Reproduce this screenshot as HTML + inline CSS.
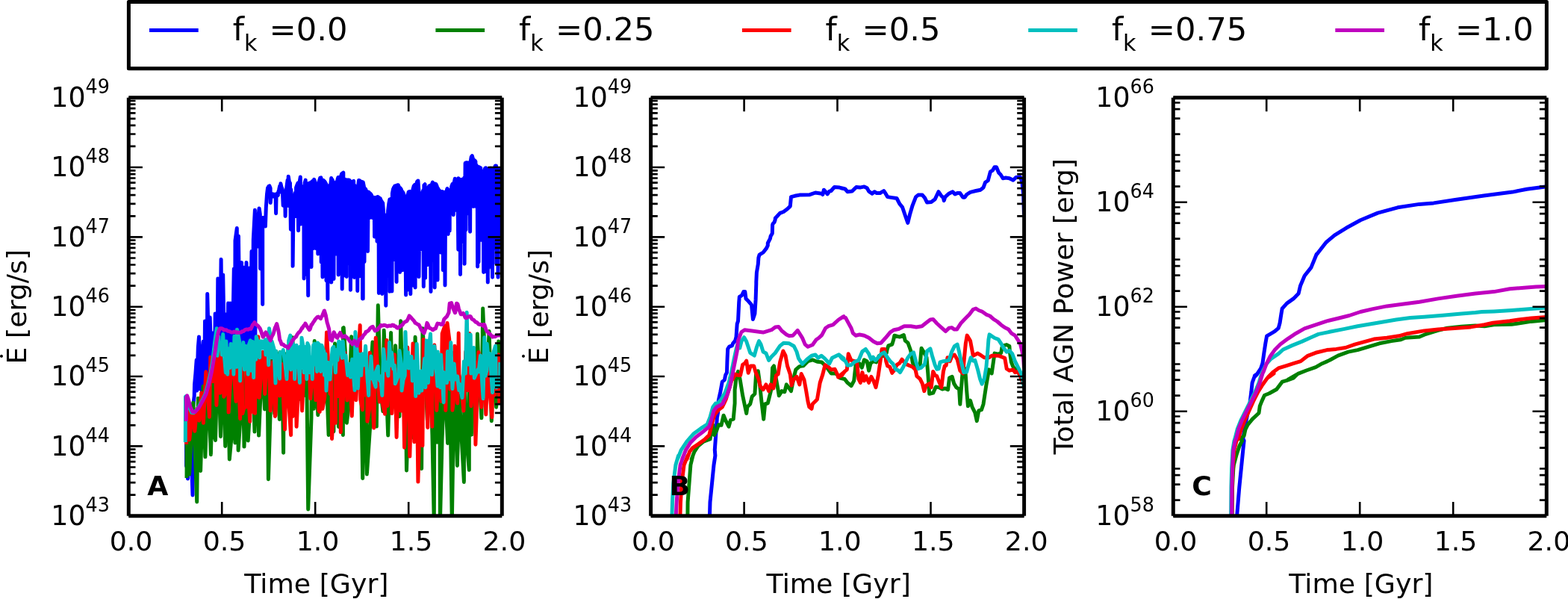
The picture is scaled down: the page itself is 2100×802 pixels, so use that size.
<!DOCTYPE html>
<html><head><meta charset="utf-8"><title>AGN power</title>
<style>html,body{margin:0;padding:0;background:#fff;overflow:hidden}svg{display:block}</style></head>
<body>
<svg width="2100" height="802" viewBox="0 0 2100 802" role="img" aria-label="AGN power versus time for five kinetic fractions">
<rect width="2100" height="802" fill="#fff"/>
<defs>
<clipPath id="cp0"><rect x="172.3" y="130.7" width="499.8" height="560.0"/></clipPath>
<clipPath id="cp1"><rect x="871.6" y="130.7" width="499.8" height="560.0"/></clipPath>
<clipPath id="cp2"><rect x="1571.3" y="130.7" width="499.8" height="560.0"/></clipPath>
</defs>
<g clip-path="url(#cp0)" fill="none" stroke-width="5.0" stroke-linejoin="round" stroke-linecap="butt">
<path stroke="#0000ff" d="M249.4,560 249.5,624 251.3,600 251.5,641 254.5,560 258,663 258.5,545 260.2,530.2 260.5,515 261.9,500.1 263.2,482 263.6,523.1 265.3,465.1 266.5,451 267,520.6 268.7,463.5 270.4,531.1 270.8,470 272.1,457.3 273.8,509.2 274.5,430 277.2,511.4 277.7,393.6 280.6,502.8 281.2,425 284,514.9 284.5,446 287.4,504.1 288.2,420 290.8,504.9 291.8,373 294.2,495.3 296.1,347.2 297.6,491.1 298.7,368 301,499 302.6,421 304.4,492.4 305.6,406 307.8,488.7 308.6,406 311.2,473.5 313.3,360 314.6,474 315,322 317.3,305.5 318,483.6 319.4,316 321.4,468.4 323.5,351.6 324.8,479.1 326,358 328.2,467 330,351.6 331.6,474.3 333.5,359 335,474.4 337,336.5 338.4,454.5 339.3,321 341.4,281.3 341.8,465.8 342.5,289.7 343.7,289.7 344.8,289.7 345,330 346,289.7 347.1,278.9 348.3,286.9 348.6,359.8 349.4,291.3 350.6,291.4 351.7,407.5 351.7,291.5 352.9,291.4 354,291.3 355.2,291 355.4,303.1 356.3,277.8 357.5,260.1 358.6,251.4 358.8,254.7 359.8,249.5 360.9,248.9 362.1,251.9 362.2,271.5 363.2,259.2 364.4,259.6 365.5,260.1 365.6,263.1 366.7,260.2 367.8,260.3 369,260.2 369.6,285.7 370.1,259.9 371.3,259.2 372.4,261.5 372.4,258.5 373.6,254.1 374.7,249.1 375.8,257.1 375.9,245.8 377,250.5 378.2,253.3 379.2,275.2 379.3,255.7 380.5,259.9 381.6,260.1 382.1,289.5 382.8,258.7 383.9,250.3 385.1,241.2 386,275.5 386.2,236.2 387.4,243.5 388.5,245.1 389.4,307.3 389.7,253.7 390.8,267.2 392,266.6 392.1,356.2 393.1,267.2 394.3,267.2 395.4,258.2 396.2,289.4 396.6,251.1 397.7,248 398.9,245.2 399.6,308.8 400,244.4 401.2,243.4 402.3,237 403,300 403.5,249 404.6,251 405.8,251 406.9,251 407.1,373 408.1,245.2 409.2,241.1 409.8,367.3 410.4,245.7 411.5,246 412.7,395.7 412.7,245.8 413.8,245.6 415,245 416.1,244.3 417,357.4 417.3,243.6 418.4,242.7 419.6,241.8 420,332.5 420.7,240.3 421.9,243.4 423,248.5 423.4,332.7 424.2,248.5 425.3,248.5 425.8,339.9 426.5,247.7 427.6,241.9 428.8,238.1 429.9,237.8 430.2,350.9 431.1,241 432,371.1 432.2,241 433.4,241.5 433.6,369.7 434.5,242.7 435.7,244.5 436.8,246.4 437,375.8 438,248.3 438.9,400.6 439.1,249.1 440.3,249.1 440.4,367.8 441.4,249.1 442.6,248.8 443.7,238.4 443.8,378 444.9,240.3 446,243.1 447,373.6 447.2,244.8 448.3,244.8 449.5,244.8 450.6,339.9 450.6,244.8 451.8,241.3 452.9,237.5 453.2,368 454.1,237.7 455.2,237.9 456.4,236.7 457.5,232.9 458.2,386.9 458.7,232 459.8,231.1 460.8,369.1 461,239.8 462.1,240.3 463.3,240.7 464.2,370.4 464.4,240.9 465.6,241 466.7,240.9 467.6,352.5 467.9,241.2 469,242.7 469.4,388.2 470.2,243.2 471,365.1 471.3,243.4 472.5,243 473.6,242.4 474.4,371.5 474.8,248.1 475.9,251 477.1,251 478.2,251 478.8,389.4 479.4,251 480.5,241.5 481.2,369.9 481.7,241.8 482.8,242.9 484,243.3 485.1,243.7 485.6,400 486.2,399.9 486.3,244.1 487.4,249.8 488,350.5 488.6,252.2 489.7,253.3 490.9,257.2 492,257.1 492.5,336.4 493.2,257.1 494.3,257.6 495.2,291.5 495.5,258.8 496.6,259.9 497.8,261.8 498.7,291.5 498.9,264.1 500.1,264.3 501.2,264.4 501.6,317 502.4,264.4 503.5,264.4 504.7,264.4 505,323.2 505.8,263.4 507,264.1 507.4,392.5 508.1,264.9 509.3,265.8 510.4,268.6 511.6,270.2 511.8,393.5 512.7,271.8 513.9,287.9 515,288.2 515.2,373.5 516.2,288 516.8,409.3 517.3,288.3 518.5,287.5 518.6,368.5 519.6,282 520.8,272.8 521.9,267 522,390.2 523.1,266.6 524.2,266.1 524.9,390 525.4,258.9 526.5,253.2 527.7,250.6 528.8,347.8 528.8,249 530,248.8 531.1,377.5 531.1,248.6 532.3,247.7 533.4,247.8 534.6,251 535.6,364.6 535.7,251.4 536.9,252.8 538,255.5 539,361.7 539.2,256.9 540.3,258.7 541.5,262.9 542.6,264.2 543.6,395 543.8,263.9 544.9,263.8 545.8,388.2 546.1,261.1 547.2,257.1 548.4,256.5 549.5,256.6 549.8,393.7 550.7,256.5 551.8,256.6 552.6,382.1 553,253.3 554.1,249.3 555.3,247.6 556.1,385 556.4,247.1 557.6,246.7 558.7,243 559.4,362.9 559.9,241.9 561,256.5 561,370.6 562.2,260.2 562.8,333.9 563.3,259.6 564.5,260.1 565.6,258.5 566.8,254.8 567.3,383.7 567.9,247.9 569.1,246.7 569.6,372.3 570.2,252.8 571.4,251.6 572.5,253.1 573,354.6 573.7,251.9 574.8,249 576,248.4 577,390.6 577.1,247.8 578.3,247.1 579.4,244 579.8,348.1 580.6,245.9 581.7,246 582.2,385 582.9,246 584,246.7 585.2,249.4 586,375 586.3,251.8 587.5,254.1 588.6,255.3 589.8,256.4 590,337.9 590.9,256.6 592.1,256.4 593.2,257 593.4,361.7 594.4,257.6 595.5,257.6 596,381.9 596.7,257.8 597.8,256.3 599,252.5 600.1,254.7 600.2,313.4 601.3,254.6 602.2,308.9 602.4,255.1 603.6,253.9 603.6,278 604.7,249.8 605.9,246.5 607,245.6 607.2,287.7 608.2,244.6 609.3,239.2 610.4,281.3 610.5,239.9 611.6,240.2 612.8,239.7 613.8,334.3 613.9,238.8 615.1,240.4 616.2,240.3 616.5,367.5 617.4,240.4 618.5,240.3 619.7,240.1 620.6,324.2 620.8,239.9 622,237.6 622.1,353.2 623.1,218.6 624,307.8 624.3,217.7 625.4,217.8 626.6,217.9 627.4,286 627.7,217.9 628.9,217.8 629.6,310.2 630,217.5 631.2,210.2 632.3,208.6 633.5,212.6 634,276.6 634.6,214.2 635.8,214.9 636.9,216.3 637.4,276.6 638.1,221.3 639.2,223.6 639.6,356.9 640.4,223.6 641,350.9 641.5,223.6 642.7,224.3 643.8,225.1 644.4,321.3 645,230.5 646.1,229.3 647.3,230.9 647.7,364.4 648.4,229.6 649.6,225.4 650.7,224.9 651.2,363.7 651.9,226 653,225.9 653.3,378.1 654.2,226 654.6,358.4 655.3,225.9 656.5,225.5 657.6,225.2 658,345 658.8,225.4 659.5,371.3 659.9,225.4 661.1,225.4 661.4,332.2 662.2,225.4 663.4,221.9 664.5,222 664.8,353 665.7,226.1 666.8,226.4 667,371.3 668,226.7 669.1,227 670.3,227.3 671.4,227.3 671.6,332"/>
<path stroke="#008000" d="M250,640 250.2,550 252.2,547.3 253.7,634.9 258.8,539.2 263.7,672 265.4,533.2 268.6,630.5 272,517.2 274.9,611.8 278.6,505.1 282.4,608.7 285.2,494.7 286.1,580 288.5,589.5 291.8,468 295.5,584.4 298.4,469.8 301.7,597.5 305,491 307.3,614.9 311.1,573.8 311.6,475.4 314.9,592.9 318.2,468 319.1,603.1 321.5,567.3 324.8,482.7 327,598.1 331.4,476.6 332.2,590 334.7,548 338,484.7 341,578.1 344.6,478.1 346.6,583.1 351.2,478.7 354.5,547.9 357.8,468 359.4,641.7 364.4,478.3 367.7,553.9 369.9,470.6 374.3,561.4 375.1,471.6 377.6,485.7 379.6,606.2 380.4,472.7 384.2,479.4 387.5,546.4 391.9,451.7 394.1,540.7 397.4,488.4 400.7,534.6 404,474.7 407.3,529.2 410.6,484.9 412.7,682 417,559.5 417.2,496.4 420.5,547.2 421.2,456.4 423.8,487.4 425.8,555.7 430.4,490.1 433.7,534.7 437,501.1 440.1,582.5 443.6,501.8 446.9,577.8 448.5,460.1 453.5,571.4 456.8,470.7 459.4,582.5 459.5,439.2 460.2,438.6 463.4,485.5 464.4,566.3 466.7,547.5 470.7,450.7 473.3,521 476.6,468 479.9,519.2 483.2,491 485.7,640.5 489.8,476.2 491.4,634.9 496.2,563 496.4,495.5 499,458 499.7,536.7 503,509.4 504.3,571.1 506.3,408.8 509.6,522.2 512.9,550.6 514.2,442.3 516.2,488.2 519.7,583 523.6,445.4 525.5,543.1 529.6,462.7 532.7,536.3 534.9,557.4 536.7,429.7 539.3,537.8 542.6,468 544.5,630 549.2,478.4 553.8,586.2 556.1,451.2 559.1,565.5 562.4,518.6 564.6,627.6 566,439.7 569,487.7 572.3,562.4 575.6,468 578.9,581.5 581.3,700 582.2,468 585.5,592.1 588.8,489.6 589.4,700 592.1,587.4 595.4,503.5 599.6,593.5 602,480.6 605.3,700 608.6,487.6 612.4,623.5 615.2,529.6 618.5,592.5 621.4,645.4 621.8,494.9 625.1,592.8 628.3,629.2 628.4,468 631.7,581.9 635,474.3 638.3,543.6 639.4,447 641.6,505 644.9,559.8 646.7,413 651.5,525.5 655.1,443.4 658.3,563.7 661.4,479.3 664.7,545.2 667.7,457 671.3,525.4"/>
<path stroke="#ff0000" d="M249.7,595 249.9,548 251.8,552.5 253.7,588.8 257.8,551.4 260.8,577.2 263.8,547.6 266.8,563.1 269.8,526 272.4,566.3 275.8,497.8 280.5,558.2 281.8,478.2 284.8,510.7 287.8,472.3 289.9,542.4 293.8,471.6 294.8,526.2 298.1,470.1 299.8,531.2 302.8,524.9 305.8,481.7 306.1,551.1 306.1,552 308.8,505.9 311.8,479.6 316,537.4 317.8,463.5 321.6,560.7 323.8,478.6 324.8,553.6 326.8,546 329.8,544.9 329.8,484.2 334.7,564.4 335.8,472.4 339.7,552.4 341.6,553.2 341.8,468.1 344.8,531.2 345.8,450.7 347.2,532.4 350.8,491.5 351.6,471.6 353.8,471.8 354.7,527.4 356.8,491.4 359.8,463.1 362.2,549.9 365.8,484.4 368.4,557.4 369,555.7 371.8,486.7 374.6,529.9 377.8,487.4 379.6,537.4 381.5,575 383.8,483.6 385.9,524.9 389.6,582.5 389.8,464.6 392.1,557.4 395.8,484.5 397.1,571.3 401.8,476.8 404.6,549.9 408.1,472.2 410.8,505.3 413.8,485.4 415.8,533.7 419.8,479.2 422.8,535.7 425.8,479 427,549.9 428.2,551.3 431.8,482.5 432,547.4 434.8,531.8 437.5,444.9 442,527.4 443.8,491.3 444.5,587.5 446.8,552.7 449.4,566.3 449.8,476.1 452.8,530.6 455.8,472.9 456.3,578.8 458.1,485.3 458.8,550.9 461.8,472 464.8,536 467.8,496.5 471.3,557 473.8,481.3 476.8,535.7 479.8,482.6 482.2,435.5 482.8,535.5 485.6,548.7 485.9,481.1 488.8,529.1 491.8,488.3 491.9,564.3 494.8,546.6 495.3,472.2 497.8,495.5 500.6,573 500.8,572.5 503.2,452.3 508.1,538.1 509.8,507.8 512.8,542.6 515.5,554.3 515.8,495.8 517.9,455.4 518.8,543.6 521.8,473 524.8,553.6 528.3,474.8 531.1,585.4 533.8,493.6 536.8,550 539.8,492.2 541.6,599.2 545.8,465 548.8,611.1 553,460.1 554.8,591.8 557.8,473.4 559.9,645.1 563.8,500.3 565.9,596.8 567.1,454.4 569.8,473.8 572.8,572.5 575.8,463.1 578.8,571.3 579.1,474.8 581.8,462 584.8,549.4 587.8,483.6 590.8,537.4 592.2,446.5 595.9,436 596.8,549.5 599,432.4 601.7,453.8 602.8,521.2 605.8,472.4 605.9,549.3 608.8,525.8 609,463.3 611.8,511.5 612.8,540 614.2,446 614.8,500.8 617.8,519.4 620.9,549.9 623.8,470.8 626.8,522.8 628.9,446.5 630.9,543.7 635.8,484.1 636.9,595.2 641,471.6 644.8,545.2 647.8,474.6 650.8,554.9 653.8,474.9 656.8,535.3 658.9,558.7 659.8,482.6 662.8,529 667.7,474.8 668.8,541.5"/>
<path stroke="#00bfbf" d="M248.3,592 248.5,531 249.3,530.6 251.1,535.6 253.6,545.6 256.8,552.4 259.9,552.4 264.9,546.8 269.8,538.1 274.8,528.1 278.6,514.4 282.3,498.2 284.8,483.2 287.7,457 290.3,439.7 291.1,476.3 292.9,450.7 293.6,465 295.8,460.7 297.3,475.1 298.7,447.5 299.8,470.1 302.3,498.8 302.9,457 304.8,501.2 305,466.4 307.9,492.5 309.1,460.6 312.3,462.2 312.9,501.2 313.9,450.2 317.3,491.3 317.5,441.3 320.7,457 321.6,510 322.2,462.2 324.4,488.8 325.9,458.5 327.3,495 328.5,463.3 330.6,464.3 332.2,501.2 332.7,463.3 335.3,455.9 336,496.2 338.5,457.5 339.7,505.6 340.6,460.1 342.8,481.3 343.2,450.7 345.3,458 347.8,478.8 347.9,457 351.1,457 351.6,466.3 355.2,454.9 355.9,475.1 358.4,453.8 359.7,488.8 360.5,439.7 362.6,453.8 364,478.8 364.1,457 366.8,466.4 369,513.1 369.4,470.1 374.6,506.9 375.1,471.6 378.4,472.6 379.3,468.5 381.6,485.3 384,507.5 385.6,466.4 386,491.2 386.7,455.9 388.8,449.1 389.6,495 390.9,457 394,464.3 394.6,507.5 397.1,462.2 397.7,491.3 399.2,468.5 401.4,512.5 401.9,464.3 403.6,492.5 404,452.3 406.1,464.3 407.1,498.8 407.6,471.6 409.7,464.3 410.8,507.5 411.8,459.6 413.9,464.3 414.5,498.8 417.1,477.9 418.3,507.5 419.7,462.2 421.2,487.9 421.2,460.1 423.4,465.8 424.5,497.5 425.4,459.1 428.6,462.2 429.5,497.5 430.7,462.2 433.8,470.6 434.4,502.4 435.9,473.7 437,523.1 439.1,485.3 442,508.1 443.2,488.4 445.3,466.4 446.9,464.3 449.4,498.8 450.6,468.5 452,482.2 453.7,457 455,458 458.2,479.3 459.2,457 460.8,478.7 463,475.8 465.7,502.5 468.6,487 469.4,505 471.8,480.9 475,522.4 475.9,444.4 478.6,474.4 479.4,519.9 481.2,474.4 483.7,502.6 485,474.3 485,473.8 487.5,488.9 489.6,463.3 491.6,500.3 493.7,529.4 494.3,501.6 496,507.2 496.9,476.9 498.7,504.3 503.1,518.1 503.2,498.5 506.3,490.5 506.8,505.6 509.2,510.4 509.5,503.7 511.8,529.4 513.7,467.4 516.2,495.6 516.8,484.9 519.9,503.2 521.5,458.5 523.6,489.3 524.6,472 526.8,494 528.3,489.1 529.2,513.8 533.6,503.1 535.1,469.6 537.8,489.1 538,523.1 540,509 542.3,502.6 543,444.4 544.4,488.2 546.6,471.7 547.3,493.1 551,477.4 552.3,510 555.6,483.8 556.7,530.6 558.2,460.6 561,526.2 561.9,501.6 564.2,496.9 564.8,523.1 568.6,480 569.8,518.8 571.3,455.9 573.5,512.5 574.4,463.9 576.5,447 578.5,501.8 581.8,463.5 586,516.9 586.2,470.9 589.7,518.8 590.6,475 594.1,538.7 594.3,498.5 598.5,512.5 599.4,470.5 602.2,508 603.8,458.5 605.9,520.6 608.2,486.9 609.7,508 612.6,503.8 614.7,522.5 615.3,514.2 619,532.5 621.4,483.9 623.4,500.1 625.2,418.2 626.5,488.1 630.2,448 630.9,500.1 634.6,465.6 635.2,506.3 640.4,494.3 640.9,498.1 643.4,476 647.1,533.7 648.8,451.7 650,503.3 652.1,495.1 652.2,460.2 654.6,488.1 656.1,473.4 659.5,525.6 661,471.4 663.5,463.3 664.5,518.8 669.5,515.5 669.8,484.9"/>
<path stroke="#bf00bf" d="M249.3,564 249.6,545 249.3,532.3 250.6,529.8 252.4,534.8 254.9,544.8 258.1,551.6 261.2,551.6 266.2,546 271.1,537.3 276.1,527.3 279.9,513.6 283.6,497.4 286.1,482.4 288.6,467.2 288.6,467.5 289.9,457.3 290.5,454.3 292.3,445 292.3,444.8 294.4,439.9 294.8,439.8 296.6,439.7 298.7,440.5 299.8,441.7 300.6,441.8 303.1,441.8 305,443.2 307.3,443.6 307.6,443.8 309.7,444.9 311.5,445 313.5,444.1 315.4,444.7 317.3,445.4 317.9,444.8 320.2,445.4 322.3,445 323.5,444.8 324.1,443.7 326,443.6 328.1,441.7 329.8,441.1 330.4,440.9 332.4,441.3 334.8,440.1 336,440.4 337.1,438 338.5,434.8 339.6,433.8 341,431.7 341.6,433.4 343.5,434.8 343.5,434.7 345.9,436.7 347.2,438.6 348.1,439.5 349.7,443.6 350.5,446.3 352.2,451.1 352.7,450.8 354.8,447.1 355.9,444.8 357,446.8 359.2,450.9 359.7,451.1 361.8,455.2 362.2,456 364.1,450.7 365.9,447.3 366.5,445.5 368.4,438.6 369.1,437.5 370.6,433.6 371.2,435.5 372.8,442.3 373.5,446.4 374.6,454.8 375.7,456.8 377.1,461 377.5,460.4 380,461.8 380.9,462.9 381.9,463.4 384.5,464.4 385.9,466 386.6,464.7 389.2,460.8 390.9,457.3 391.7,455.8 393.8,453.3 395.8,451.1 396.4,451.2 398.2,447.5 400.2,445.1 400.8,444.8 402.4,442.9 404.4,439.2 404.6,439.8 406.5,436.5 408.8,434 408.9,433 411.1,436.9 411.4,437.3 413.4,440.5 414.5,441.7 415.3,440.5 417,434.8 417.7,434.6 420.2,430.5 420.8,429.9 422.3,427.4 424.6,424.8 425.8,424.2 426.4,424.1 428.3,425.7 429.5,426.7 430.1,424.8 432,422.4 432,421.6 434.1,416.3 434.5,416.1 436.4,422.4 436.6,424 438.2,432.3 438.5,432.9 440.6,440.3 440.7,441.1 442,453.5 442.4,454.6 444.5,456 445.1,453.2 447,444.8 447.3,444.7 449.1,448.8 449.4,449.8 451.1,452 451.9,452.3 453,449.5 455.6,445.6 455.7,445.4 457.5,449.6 458.2,451.1 459.3,450.7 461.9,450.5 461.9,449.8 464.3,451.7 466.4,453.6 466.9,454.8 468.8,457.2 471.2,459.9 471.9,461 473.2,459 474.4,456 475.8,459.3 478.1,462.9 478.3,462.9 480,456.1 480.7,455.1 482.9,453.7 484.7,451.7 485,452.4 486.7,449.1 489.1,446.5 490,444.3 491.2,444.1 493.9,442.2 495,440.5 495.9,439.3 497.9,437.9 499.3,437.4 499.8,438.5 502.4,442.9 502.4,442.4 504.6,442 506.2,441.1 507,439.1 509.4,437.1 509.9,435.5 511.8,436.1 514,435.3 516.5,435.8 517.4,436.2 518.9,437 521,436 522.4,436.2 523.6,436.4 525.5,435.1 527.4,435.5 527.4,436.3 529.9,437 531.1,438.6 532.4,439.2 534.7,437.5 536.1,437.4 537,435.8 538.7,435.3 541.1,431.9 541.1,431.8 543.7,430.4 544.8,429.9 546.2,427.6 548,423.1 548.1,422.8 550.2,424.8 551.7,426.8 552.4,427.3 554.6,429.8 556.1,432.4 557.1,432.7 559.3,434.2 561,434.9 561.8,436.3 564.4,441.6 564.8,442.4 566.6,444.6 567.9,446.1 568.4,444.8 570.3,439.2 570.4,439.9 571.9,432.4 572.8,433.8 574.8,438.6 575,439.2 577.2,439.9 579.4,441.7 579.8,441.8 581.9,440 583.5,439.9 584.1,437.7 586,433 586.1,433.6 588.3,433.5 589.7,433.7 590.8,434.6 592.8,434.3 592.9,434.2 594.7,427.4 595.1,427 597.5,424.6 598.5,423.7 599.7,421.1 601,418.7 602.2,406.2 602.3,406.6 604.7,405.6 604.9,406.9 606.8,412.7 607.2,413.7 609.4,418.8 609.7,418.7 611.3,407.1 611.5,406.2 612.8,406.9 613.5,409 614.7,415 615.4,415.9 617.2,420.6 617.8,421 620.3,419.4 620.9,419.9 622.7,424.3 623.4,425.6 624.6,425.8 627.1,424.3 627.2,423.8 629.8,423.6 630.2,423.7 632,427 633.4,428.1 634.5,428.4 636.6,430.8 637.1,431.2 638.7,431.6 640.7,433.8 642.1,434.3 642.5,434.6 644.7,434.5 646.5,436.2 646.7,436.1 648.3,434.3 648.9,435.1 650.8,441.1 651.5,442.8 654.2,445.5 654.6,446.8 656.2,447.3 658.6,449.9 659.5,451.1 660.5,450.7 663,450.8 664.5,449.9 665,449.1 667.6,449 668.3,448.6 670,448.5 671.8,450.1 672,449.9"/>
</g>
<g clip-path="url(#cp1)" fill="none" stroke-width="5.0" stroke-linejoin="round" stroke-linecap="butt">
<path stroke="#0000ff" d="M950.4,692.3 951,672.3 953.5,647.4 956,622.5 957.9,610 957.3,602.3 959.1,577.4 960.4,558.7 961.6,552.5 962.3,536.1 964.8,524.8 967.3,511.1 970.4,508.6 971.6,502.4 973.5,498.6 973.9,484.9 974.1,479.8 974.7,467.3 976.6,464.2 980.4,462.9 981.6,459.8 984.7,456.1 986,451.1 986.6,442.3 987.2,433.6 988.5,429.9 989.7,404.9 990.3,397.5 993.4,395.6 995.9,390.6 997.8,390.6 999,399.9 1002.2,403.1 1006.5,408.1 1008.4,427.4 1010.9,419.9 1012.1,401.2 1012.8,380 1012.8,377.3 1013.4,364.8 1015.3,353.6 1015.9,344.9 1017.1,341.1 1022.1,338 1026.5,332.4 1028.3,328.6 1028.3,325.5 1031.5,319.3 1032.1,316.2 1034.3,312.4 1034.6,301.2 1035.2,299.4 1037.1,297.5 1038.3,293.7 1038.3,292.3 1044.6,285.4 1049.5,283.5 1054.5,279.8 1058.3,276.1 1059.5,263.6 1064.5,262.3 1070.8,261.1 1084.5,260.7 1092,258 1100.7,259.2 1101.9,260.5 1103.4,254.2 1105.7,256.7 1108.2,259.9 1110.7,256.1 1113.1,255.5 1117.5,250.5 1124.4,251.1 1130,252.4 1126.2,251.8 1131.8,253 1135,256.7 1141.2,256.1 1146.8,250.5 1151.8,251.1 1157.4,249.9 1161.2,251.8 1163.6,256.1 1168,259.2 1171.1,256.7 1174.2,258.6 1178.6,258.6 1183.6,255.5 1186.1,259.2 1188.6,263.6 1194.8,264.6 1201,265.5 1204.8,272.9 1208.5,277.3 1212.3,288.5 1215.8,298.5 1218.5,287.3 1222.2,274.8 1226.6,263.6 1229.7,261.1 1235.3,261.1 1238.5,264.8 1241.6,271.1 1247.2,270.4 1252.2,266.7 1256.9,256.7 1260.3,261.7 1263.4,264.8 1264.3,268.6 1265.9,263.6 1270.9,259.2 1275.9,256.7 1279,259.9 1282.1,258.6 1285.8,258.6 1289.6,264.2 1292.1,264.2 1294.6,260.5 1299.5,257.4 1307,255.5 1313.3,254.2 1317,251.1 1319.5,244.3 1323.2,241.8 1326.4,229.9 1329.5,228.1 1332,223.7 1334.5,223.7 1337.6,231.2 1340.1,233.7 1343.2,238.7 1346.9,238 1351.9,238.7 1356.9,241.2 1360.7,237.4 1366.3,236.8 1368.8,243.6 1370.6,259.9 1371.5,287.3"/>
<path stroke="#008000" d="M920.9,692.3 921.1,672.3 923,647.4 924.9,622.5 928,610 926.1,614.8 929.9,604.8 934.8,597.4 942.3,591.1 951,588 952.9,577.4 954.8,568.7 956.7,582.4 959.8,576.2 962.3,568.7 966,569.3 969.1,556.2 972.2,563.7 976,571.2 978.5,562.4 982.2,561.2 984.1,540 984.1,522.3 986,506.1 988.5,497.4 991,507.4 994.7,529.8 999.7,553.5 1000.9,544.8 1004.7,541 1007.2,531.1 1010.9,527.3 1012.8,497.4 1015.3,496.8 1017.1,509.9 1019.6,534.8 1022.7,561.2 1024.6,541 1028.3,539.8 1030.8,529.8 1033.3,519.9 1034.6,492.4 1036.5,489.9 1038.3,501.1 1042.1,522.3 1043.3,529.8 1047.1,523.6 1050.8,524.8 1053.3,514.9 1057,519.9 1059.5,523.6 1063.3,504.9 1065.8,494.9 1070.8,490.6 1075.7,489.9 1082,483.7 1088.2,481.8 1094.4,484.3 1100.7,484.9 1106.9,491.2 1113.1,499.9 1119.4,499.9 1125.6,506.1 1130,507.4 1125,506.1 1131.2,507.4 1135,512.4 1140,516.7 1143.7,509.9 1146.2,487.4 1151.2,486.8 1154.3,492.4 1157.4,481.8 1161.2,483.7 1163.6,496.2 1166.1,486.2 1169.9,483.7 1173.6,484.9 1177.4,476.2 1182.3,476.8 1187.3,472.5 1188,468.5 1189.8,462.9 1194.8,461.1 1196.7,454.8 1197.9,449.2 1204.8,451.1 1210.4,448.6 1212.3,456.1 1216,459.2 1218.5,466 1219.8,469.8 1222.2,484.9 1224.7,492.4 1232.2,488.7 1234.1,466.2 1237.2,471.2 1241,478.7 1242.8,499.9 1244.7,527.3 1249.7,526.1 1253.4,518 1257.2,518.6 1262.1,521.1 1265.9,519.9 1269.6,521.7 1271.5,506.1 1275.2,504.3 1277.7,513.6 1280.8,518.6 1284.6,521.1 1285.8,541.2 1287.7,516.1 1289.6,492.4 1292.7,493.7 1294.6,522.3 1296.4,543.7 1299.5,536.2 1302,544.9 1305.8,552.4 1308.3,563.6 1310.8,549.9 1314.5,548.6 1317,541.2 1320.8,516.2 1324.5,494.9 1328.2,499.9 1330.7,482.4 1332,473.1 1337,474.3 1340.7,472.5 1342,465 1343.2,462.9 1348.2,461.6 1351.9,463.5 1352.5,472.2 1354.4,484.9 1356.9,491.2 1363.1,497.4 1368.8,507.4 1371.5,512.4"/>
<path stroke="#ff0000" d="M910.9,692.3 911.5,672.3 913,647.4 916.1,622.5 921.1,610 919.9,614.8 923.6,604.8 927.4,599.9 934.8,594.9 943.6,588.6 949.8,582.4 952.3,572.4 954.8,562.4 957.3,555 962.3,548.7 967.3,545 969.8,540 972.2,534.8 976,522.3 979.7,509.9 982.2,506.1 984.7,501.1 988.5,502.4 991.6,502.4 994.7,488.1 997.2,486.8 999.7,483.1 1002.2,499.3 1005.3,489.9 1009.6,489.9 1012.1,498.6 1015.9,507.4 1018.4,517.4 1022.1,521.7 1025.9,514.9 1029.6,523.6 1032.1,514.9 1035.8,519.9 1039.6,502.4 1042.1,501.1 1044.6,484.9 1048.9,470 1052,476.2 1054.5,489.9 1058.3,501.1 1060.2,516.1 1062.6,508.6 1067,504.3 1070.8,514.9 1073.2,500.5 1077,508.6 1079.5,522.3 1082,537.3 1083.8,544.8 1087,547.3 1088.2,541 1092,537.3 1094.4,534.8 1098.2,512.4 1101.9,501.1 1105,488.7 1109.4,491.2 1113.1,494.9 1118.1,494.3 1123.1,504.9 1130,498.6 1122.5,504.9 1127.5,502.4 1131.2,497.4 1134.3,494.9 1136.2,473.7 1140,482.4 1144.9,483.7 1148,487.4 1149.9,507.4 1152.4,512.4 1154.9,498.6 1157.4,509.9 1159.9,503.6 1163.6,512.4 1166.8,504.3 1169.9,509.9 1173,518.6 1176.1,503.6 1179.2,482.4 1181.1,467.5 1184.8,467.5 1186.7,483.7 1188.6,489.9 1191.7,491.2 1194.8,499.3 1197.3,496.2 1201,488.7 1204.8,486.2 1207.9,481.2 1211,484.9 1214.8,488.1 1222.2,491.2 1226,494.9 1227.9,503.6 1232.2,507.4 1235.3,513.6 1237.8,523.6 1240.3,516.1 1244.7,513.6 1247.2,518.6 1249.7,497.4 1252.2,502.4 1254.7,503.6 1257.2,509.9 1260.9,518.6 1263.4,497.4 1265.3,489.9 1267.1,489.3 1269,478.7 1272.1,483.7 1275.2,476.2 1278.3,475 1282.1,481.2 1285.8,496.2 1289.6,499.9 1291.5,478.7 1293.3,460 1295.2,449.1 1299.5,456.3 1301.4,466.2 1303.3,476.2 1309.5,473.1 1314.5,476.2 1318.2,478.7 1324.5,478.7 1328.2,476.2 1337,476.2 1345.7,479.3 1348.2,493.7 1351.9,496.2 1356.9,494.9 1359.4,498.6 1363.1,497.4 1366.3,502.4 1368.8,509.9 1371.5,514.9"/>
<path stroke="#00bfbf" d="M899.9,692.3 900.5,672.3 901.8,647.4 904.9,622.5 908.6,610 907.4,614.8 912.4,602.3 919.9,591.1 928.6,581.1 938.6,573.7 947.3,568 951,558.7 954.8,545 958.5,540 960.4,541 965.8,534.8 971,526.1 976,512.4 979.7,497.4 983.5,478.7 986,467.5 988.2,460 990.7,466 993.2,456.7 996.6,451.7 999.7,457.3 1004.7,472.3 1010.3,476 1013.4,464.8 1016.5,456.7 1019,461.1 1022.1,471 1025.9,472.9 1029.6,482.4 1033.3,477.5 1038.3,472.5 1044.6,463.1 1049.5,459.2 1057,459.8 1063.3,463.5 1067,471 1069.5,479.9 1074.5,487.4 1080.7,481.2 1087,476.2 1092,475 1095.7,479.3 1100,476.2 1104.4,479.9 1110.7,486.8 1114.4,479.3 1123.1,475 1130,479.9 1123.7,475 1127.5,479.9 1132.5,483.7 1135,489.3 1140,488.7 1144.9,484.3 1149.9,482.4 1154.9,470.6 1159.3,467.5 1163.6,473.7 1166.8,481.2 1169.2,478.1 1172.4,482.4 1176.1,478.7 1179.8,474.3 1184.2,471.9 1188.6,478.7 1192.3,483.7 1196.1,487.4 1199.8,494.9 1202.3,495.5 1205.4,498.6 1209.8,491.2 1216,478.7 1219.8,473.7 1223.5,471.9 1226.6,483.7 1229.7,493.7 1233.5,492.4 1238.5,487.4 1241.6,470 1245.9,466.9 1248.4,476.2 1252.2,488.7 1254.7,494.3 1257.2,493.7 1259,484.9 1263.4,483.7 1270.9,482.4 1274.6,471.2 1278.3,463.7 1282.1,461.2 1284.6,471.2 1287.7,486.2 1290.8,498.6 1294.6,498 1297.1,488.7 1300.2,478.7 1303.3,483.1 1305.8,482.4 1309.5,494.9 1312.6,507.4 1315.1,514.2 1318.2,507.4 1320.8,492.4 1322.6,472.5 1323.9,455 1325.1,447.9 1332,452.5 1337,454.4 1340.7,460 1344.4,466.2 1348.2,471.2 1351.9,469.4 1355.7,473.7 1359.4,483.7 1364.4,493.7 1368.1,501.1 1370,509.9 1371.5,519.9"/>
<path stroke="#bf00bf" d="M905.2,692.3 906.2,672.3 908,647.4 911.1,622.5 915.5,610 913.6,614.8 918.6,602.3 924.9,592.4 932.3,584.9 942.3,577.4 949.8,571.2 952.9,561.2 956,550 959.8,545 964.8,542.5 968.5,540 968.5,538.5 973.5,529.8 977.2,518.6 979.7,507.4 982.2,494.9 984.7,482.4 987.2,470 988.5,456.1 992.8,444.8 997.2,441.7 1007.2,443 1022.1,445.1 1033.3,441.7 1038.3,438 1042.7,437.4 1047.1,443 1053.3,448 1057,449.8 1062,449.2 1068.2,442.3 1074.5,452.3 1078.2,461.1 1082,464.2 1088.2,461.7 1093.2,454.8 1096.9,452.3 1100.7,448.6 1105.7,439.2 1109.4,436.7 1115.6,434.9 1123.1,428 1130,423.6 1125,426.8 1128.7,424.3 1132.5,425.5 1136.2,432.4 1140,439.2 1142.4,446.1 1146.2,449.2 1151.2,448 1157.4,449.2 1163.6,452.3 1169.9,457.3 1174.9,459.8 1179.8,459.2 1186.1,452.3 1192.3,444.8 1197.3,441.7 1203.5,440.5 1211,436.7 1219.8,436.7 1227.2,438 1234.7,436.7 1241,431.8 1245.9,428 1249.7,427.4 1254.7,433 1260.9,438.6 1266.5,443.6 1270.9,439.2 1274.6,438.6 1278.3,441.1 1281.5,441.1 1287.1,432.4 1293.3,426.1 1298.3,421.1 1303.3,414.3 1307,413 1310.8,415.5 1315.8,417.4 1320.8,421.1 1325.7,423 1330.7,427.4 1335.7,430.5 1340.7,434.9 1345.7,438.6 1350.7,441.1 1354.4,446.1 1359.4,449.2 1363.1,454.8 1366.3,459.8 1368.8,469.8 1370.6,479.8 1371.5,492.2"/>
</g>
<g clip-path="url(#cp2)" fill="none" stroke-width="5.0" stroke-linejoin="round" stroke-linecap="butt">
<path stroke="#0000ff" d="M1656.5,693.5 1656.7,689.8 1659.8,652.3 1662.3,627.4 1664.8,602.5 1666.1,590 1664.8,587.3 1666.7,574.8 1669.2,562.3 1671.7,549.9 1674.2,537.4 1675.8,524.9 1677.1,512.5 1679.8,505 1683.5,501.2 1680.4,502.9 1683.5,501 1688.5,493.5 1691,486.1 1692.9,472.3 1694.8,459.9 1696.6,449.9 1701,447.4 1707.2,443.7 1712.2,439.3 1714.1,432.4 1716,420 1717.2,413.1 1717.9,412.3 1723.5,406.1 1732.3,399.9 1739.1,393 1741.6,382.4 1747.2,369.3 1756,358.1 1763.4,340 1762.6,341.8 1776,324.5 1787.5,314.9 1802.9,305.3 1822.1,294.7 1845.2,285.1 1872,277.8 1900.8,273.4 1920,271.9 1948.8,267.5 1987.2,262.1 2025.7,257.1 2044.9,253.2 2069.8,250"/>
<path stroke="#008000" d="M1650.1,693.5 1650.1,689.8 1650.5,652.3 1651.8,627.4 1652.4,622.4 1656.1,608.7 1659.8,597.5 1663.6,590 1661.1,587.3 1666.1,583.5 1668,574.8 1671.1,568.6 1677.3,561.1 1686,553 1687.3,543.6 1689.8,537.4 1693.5,529.3 1699.8,526.8 1709.7,521.2 1717.2,511.2 1723.4,509.4 1732.2,506.2 1737.2,501.2 1724.7,508.5 1730.9,506.6 1738.4,500.4 1749.6,496 1762.1,491.7 1770.8,486.7 1780.8,482.3 1792,476.1 1805.7,471.1 1818.2,468.6 1847.4,459.8 1863.6,456.6 1876.1,454.8 1882.3,452.3 1901,451 1909.8,447.3 1926,442.3 1938.5,439.2 1957.2,437.3 1975.9,436.1 1988.3,436.7 2000.8,434.8 2024.5,434.2 2038.2,432.3 2050.7,430.4 2071.2,428.6"/>
<path stroke="#ff0000" d="M1649.9,693.5 1649.9,689.8 1650.1,652.3 1650.9,627.4 1653,602.5 1656.1,590 1658.6,587.3 1662.3,574.8 1667.3,562.3 1672.9,549.9 1678.5,537.4 1684.8,524.9 1691,515 1697.3,506.2 1701,503.7 1706,500 1698.5,504.8 1704.7,498.5 1712.2,492.9 1722.2,489.8 1732.2,486.7 1742.1,483.6 1750.9,476.7 1762.1,472.3 1777.1,468.6 1789.5,467.4 1802,465.5 1814.5,461.1 1840,454.1 1857.4,452.3 1873.6,449.8 1884.8,446.7 1907.3,442.9 1926,441.1 1944.7,439.8 1969.6,437.9 1988.3,434.8 1999.5,432.3 2022,429.8 2033.7,428 2050.7,426.1 2071.2,424.5"/>
<path stroke="#00bfbf" d="M1648.6,693.5 1648.6,689.8 1648.9,652.3 1649.6,627.4 1650.9,602.5 1653,590 1653.9,587.3 1657.1,574.8 1662.1,562.3 1668.3,549.9 1674.6,537.4 1680.8,524.9 1686,512.5 1689.8,500 1691,497.3 1696,487.3 1702.2,480.4 1712.2,473.6 1718.5,468 1730.9,462.4 1743.4,457.4 1755.9,451.8 1765.8,447.4 1780.8,444.3 1799.5,440.6 1818.2,436.8 1844.9,432.3 1869.9,428 1888.6,425.5 1907.3,424.2 1932.2,422.3 1957.2,419.9 1975.9,418.6 1984.6,417.6 2000.8,416.9 2024.5,415.5 2034.5,414.7 2050.7,413.4 2071.2,412"/>
<path stroke="#bf00bf" d="M1649.6,693.5 1649.6,689.8 1649.9,652.3 1650.5,627.4 1651.8,602.5 1654.2,590 1655.5,587.3 1658.6,574.8 1663.6,562.3 1669.8,549.9 1676.1,537.4 1682.3,524.9 1687.3,512.5 1691,500 1692.3,497.3 1696,487.3 1701,477.3 1707.2,468.6 1714.7,461.1 1724.7,453.6 1735.9,446.2 1747.1,439.9 1762.1,434.9 1777.1,429.9 1792,426.2 1807,422.5 1822,417.5 1838.7,413.6 1857.4,409.9 1876.1,407.4 1901,404.3 1926,399.9 1950.9,396.2 1975.9,393 2000.8,390.6 2022,386.8 2044.4,384.9 2056.9,383.9 2071.2,383.4"/>
</g>
<path d="M172.3 662.6h9.2M672.1 662.6h-9.2M172.3 646.2h9.2M672.1 646.2h-9.2M172.3 634.5h9.2M672.1 634.5h-9.2M172.3 625.5h9.2M672.1 625.5h-9.2M172.3 618.1h9.2M672.1 618.1h-9.2M172.3 611.8h9.2M672.1 611.8h-9.2M172.3 606.4h9.2M672.1 606.4h-9.2M172.3 601.6h9.2M672.1 601.6h-9.2M172.3 569.3h9.2M672.1 569.3h-9.2M172.3 552.8h9.2M672.1 552.8h-9.2M172.3 541.2h9.2M672.1 541.2h-9.2M172.3 532.1h9.2M672.1 532.1h-9.2M172.3 524.7h9.2M672.1 524.7h-9.2M172.3 518.5h9.2M672.1 518.5h-9.2M172.3 513.1h9.2M672.1 513.1h-9.2M172.3 508.3h9.2M672.1 508.3h-9.2M172.3 475.9h9.2M672.1 475.9h-9.2M172.3 459.5h9.2M672.1 459.5h-9.2M172.3 447.8h9.2M672.1 447.8h-9.2M172.3 438.8h9.2M672.1 438.8h-9.2M172.3 431.4h9.2M672.1 431.4h-9.2M172.3 425.2h9.2M672.1 425.2h-9.2M172.3 419.7h9.2M672.1 419.7h-9.2M172.3 415.0h9.2M672.1 415.0h-9.2M172.3 382.6h9.2M672.1 382.6h-9.2M172.3 366.2h9.2M672.1 366.2h-9.2M172.3 354.5h9.2M672.1 354.5h-9.2M172.3 345.5h9.2M672.1 345.5h-9.2M172.3 338.1h9.2M672.1 338.1h-9.2M172.3 331.8h9.2M672.1 331.8h-9.2M172.3 326.4h9.2M672.1 326.4h-9.2M172.3 321.6h9.2M672.1 321.6h-9.2M172.3 289.3h9.2M672.1 289.3h-9.2M172.3 272.8h9.2M672.1 272.8h-9.2M172.3 261.2h9.2M672.1 261.2h-9.2M172.3 252.1h9.2M672.1 252.1h-9.2M172.3 244.7h9.2M672.1 244.7h-9.2M172.3 238.5h9.2M672.1 238.5h-9.2M172.3 233.1h9.2M672.1 233.1h-9.2M172.3 228.3h9.2M672.1 228.3h-9.2M172.3 195.9h9.2M672.1 195.9h-9.2M172.3 179.5h9.2M672.1 179.5h-9.2M172.3 167.8h9.2M672.1 167.8h-9.2M172.3 158.8h9.2M672.1 158.8h-9.2M172.3 151.4h9.2M672.1 151.4h-9.2M172.3 145.2h9.2M672.1 145.2h-9.2M172.3 139.7h9.2M672.1 139.7h-9.2M172.3 135.0h9.2M672.1 135.0h-9.2" stroke="#000" stroke-width="2.70" fill="none"/><path d="M172.3 690.7h18.6M672.1 690.7h-18.6M172.3 597.4h18.6M672.1 597.4h-18.6M172.3 504.0h18.6M672.1 504.0h-18.6M172.3 410.7h18.6M672.1 410.7h-18.6M172.3 317.4h18.6M672.1 317.4h-18.6M172.3 224.0h18.6M672.1 224.0h-18.6M172.3 130.7h18.6M672.1 130.7h-18.6M297.2 690.7v-18.6M297.2 130.7v18.6M422.2 690.7v-18.6M422.2 130.7v18.6M547.2 690.7v-18.6M547.2 130.7v18.6" stroke="#000" stroke-width="2.60" fill="none"/>
<path d="M172.30 130.75H672.30M172.30 690.75H672.30M172.30 130.75V690.75M672.30 130.75V690.75" fill="none" stroke="#000" stroke-width="4.95"/>
<path d="M871.6 662.6h9.2M1371.4 662.6h-9.2M871.6 646.2h9.2M1371.4 646.2h-9.2M871.6 634.5h9.2M1371.4 634.5h-9.2M871.6 625.5h9.2M1371.4 625.5h-9.2M871.6 618.1h9.2M1371.4 618.1h-9.2M871.6 611.8h9.2M1371.4 611.8h-9.2M871.6 606.4h9.2M1371.4 606.4h-9.2M871.6 601.6h9.2M1371.4 601.6h-9.2M871.6 569.3h9.2M1371.4 569.3h-9.2M871.6 552.8h9.2M1371.4 552.8h-9.2M871.6 541.2h9.2M1371.4 541.2h-9.2M871.6 532.1h9.2M1371.4 532.1h-9.2M871.6 524.7h9.2M1371.4 524.7h-9.2M871.6 518.5h9.2M1371.4 518.5h-9.2M871.6 513.1h9.2M1371.4 513.1h-9.2M871.6 508.3h9.2M1371.4 508.3h-9.2M871.6 475.9h9.2M1371.4 475.9h-9.2M871.6 459.5h9.2M1371.4 459.5h-9.2M871.6 447.8h9.2M1371.4 447.8h-9.2M871.6 438.8h9.2M1371.4 438.8h-9.2M871.6 431.4h9.2M1371.4 431.4h-9.2M871.6 425.2h9.2M1371.4 425.2h-9.2M871.6 419.7h9.2M1371.4 419.7h-9.2M871.6 415.0h9.2M1371.4 415.0h-9.2M871.6 382.6h9.2M1371.4 382.6h-9.2M871.6 366.2h9.2M1371.4 366.2h-9.2M871.6 354.5h9.2M1371.4 354.5h-9.2M871.6 345.5h9.2M1371.4 345.5h-9.2M871.6 338.1h9.2M1371.4 338.1h-9.2M871.6 331.8h9.2M1371.4 331.8h-9.2M871.6 326.4h9.2M1371.4 326.4h-9.2M871.6 321.6h9.2M1371.4 321.6h-9.2M871.6 289.3h9.2M1371.4 289.3h-9.2M871.6 272.8h9.2M1371.4 272.8h-9.2M871.6 261.2h9.2M1371.4 261.2h-9.2M871.6 252.1h9.2M1371.4 252.1h-9.2M871.6 244.7h9.2M1371.4 244.7h-9.2M871.6 238.5h9.2M1371.4 238.5h-9.2M871.6 233.1h9.2M1371.4 233.1h-9.2M871.6 228.3h9.2M1371.4 228.3h-9.2M871.6 195.9h9.2M1371.4 195.9h-9.2M871.6 179.5h9.2M1371.4 179.5h-9.2M871.6 167.8h9.2M1371.4 167.8h-9.2M871.6 158.8h9.2M1371.4 158.8h-9.2M871.6 151.4h9.2M1371.4 151.4h-9.2M871.6 145.2h9.2M1371.4 145.2h-9.2M871.6 139.7h9.2M1371.4 139.7h-9.2M871.6 135.0h9.2M1371.4 135.0h-9.2" stroke="#000" stroke-width="2.70" fill="none"/><path d="M871.6 690.7h18.6M1371.4 690.7h-18.6M871.6 597.4h18.6M1371.4 597.4h-18.6M871.6 504.0h18.6M1371.4 504.0h-18.6M871.6 410.7h18.6M1371.4 410.7h-18.6M871.6 317.4h18.6M1371.4 317.4h-18.6M871.6 224.0h18.6M1371.4 224.0h-18.6M871.6 130.7h18.6M1371.4 130.7h-18.6M996.6 690.7v-18.6M996.6 130.7v18.6M1121.5 690.7v-18.6M1121.5 130.7v18.6M1246.5 690.7v-18.6M1246.5 130.7v18.6" stroke="#000" stroke-width="2.60" fill="none"/>
<path d="M871.60 130.75H1371.60M871.60 690.75H1371.60M871.60 130.75V690.75M1371.60 130.75V690.75" fill="none" stroke="#000" stroke-width="4.95"/>
<path d="M1571.3 669.6h9.2M2071.1 669.6h-9.2M1571.3 648.6h9.2M2071.1 648.6h-9.2M1571.3 636.2h9.2M2071.1 636.2h-9.2M1571.3 627.5h9.2M2071.1 627.5h-9.2M1571.3 599.6h9.2M2071.1 599.6h-9.2M1571.3 578.6h9.2M2071.1 578.6h-9.2M1571.3 566.2h9.2M2071.1 566.2h-9.2M1571.3 557.5h9.2M2071.1 557.5h-9.2M1571.3 529.6h9.2M2071.1 529.6h-9.2M1571.3 508.6h9.2M2071.1 508.6h-9.2M1571.3 496.2h9.2M2071.1 496.2h-9.2M1571.3 487.5h9.2M2071.1 487.5h-9.2M1571.3 459.6h9.2M2071.1 459.6h-9.2M1571.3 438.6h9.2M2071.1 438.6h-9.2M1571.3 426.2h9.2M2071.1 426.2h-9.2M1571.3 417.5h9.2M2071.1 417.5h-9.2M1571.3 389.6h9.2M2071.1 389.6h-9.2M1571.3 368.6h9.2M2071.1 368.6h-9.2M1571.3 356.2h9.2M2071.1 356.2h-9.2M1571.3 347.5h9.2M2071.1 347.5h-9.2M1571.3 319.6h9.2M2071.1 319.6h-9.2M1571.3 298.6h9.2M2071.1 298.6h-9.2M1571.3 286.2h9.2M2071.1 286.2h-9.2M1571.3 277.5h9.2M2071.1 277.5h-9.2M1571.3 249.6h9.2M2071.1 249.6h-9.2M1571.3 228.6h9.2M2071.1 228.6h-9.2M1571.3 216.2h9.2M2071.1 216.2h-9.2M1571.3 207.5h9.2M2071.1 207.5h-9.2M1571.3 179.6h9.2M2071.1 179.6h-9.2M1571.3 158.6h9.2M2071.1 158.6h-9.2M1571.3 146.2h9.2M2071.1 146.2h-9.2M1571.3 137.5h9.2M2071.1 137.5h-9.2" stroke="#000" stroke-width="2.70" fill="none"/><path d="M1571.3 690.7h18.6M2071.1 690.7h-18.6M1571.3 550.7h18.6M2071.1 550.7h-18.6M1571.3 410.7h18.6M2071.1 410.7h-18.6M1571.3 270.7h18.6M2071.1 270.7h-18.6M1571.3 130.7h18.6M2071.1 130.7h-18.6M1696.2 690.7v-18.6M1696.2 130.7v18.6M1821.2 690.7v-18.6M1821.2 130.7v18.6M1946.2 690.7v-18.6M1946.2 130.7v18.6" stroke="#000" stroke-width="2.60" fill="none"/>
<path d="M1571.30 130.75H2071.30M1571.30 690.75H2071.30M1571.30 130.75V690.75M2071.30 130.75V690.75" fill="none" stroke="#000" stroke-width="4.95"/>
<rect x="172.4" y="2.5" width="1899.0" height="89.25" fill="#fff" stroke="#000" stroke-width="5" stroke-linejoin="round"/>
<g font-family="'DejaVu Sans','Liberation Sans',sans-serif" fill="#000">
<path d="M200.0 40.5h65.7" stroke="#0000ff" stroke-width="5.0" fill="none"/>
<text x="311.7" y="54.3" font-size="43.2" xml:space="preserve">f<tspan font-size="30.2" dy="13.7">k</tspan><tspan x="346.9" dy="-13.7"> =0.0</tspan></text>
<path d="M583.4 40.5h65.7" stroke="#008000" stroke-width="5.0" fill="none"/>
<text x="695.1" y="54.3" font-size="43.2" xml:space="preserve">f<tspan font-size="30.2" dy="13.7">k</tspan><tspan x="730.3" dy="-13.7"> =0.25</tspan></text>
<path d="M993.9 40.5h65.7" stroke="#ff0000" stroke-width="5.0" fill="none"/>
<text x="1105.6" y="54.3" font-size="43.2" xml:space="preserve">f<tspan font-size="30.2" dy="13.7">k</tspan><tspan x="1140.8" dy="-13.7"> =0.5</tspan></text>
<path d="M1377.2 40.5h65.7" stroke="#00bfbf" stroke-width="5.0" fill="none"/>
<text x="1488.9" y="54.3" font-size="43.2" xml:space="preserve">f<tspan font-size="30.2" dy="13.7">k</tspan><tspan x="1524.1" dy="-13.7"> =0.75</tspan></text>
<path d="M1788.3 40.5h65.7" stroke="#bf00bf" stroke-width="5.0" fill="none"/>
<text x="1900.0" y="54.3" font-size="43.2" xml:space="preserve">f<tspan font-size="30.2" dy="13.7">k</tspan><tspan x="1935.2" dy="-13.7"> =1.0</tspan></text>
<text transform="translate(68.3 702.9) scale(1 1.02)" font-size="36.3">10<tspan font-size="25.4" dy="-17.7">43</tspan></text>
<text transform="translate(68.3 609.6) scale(1 1.02)" font-size="36.3">10<tspan font-size="25.4" dy="-17.7">44</tspan></text>
<text transform="translate(68.3 516.2) scale(1 1.02)" font-size="36.3">10<tspan font-size="25.4" dy="-17.7">45</tspan></text>
<text transform="translate(68.3 422.9) scale(1 1.02)" font-size="36.3">10<tspan font-size="25.4" dy="-17.7">46</tspan></text>
<text transform="translate(68.3 329.6) scale(1 1.02)" font-size="36.3">10<tspan font-size="25.4" dy="-17.7">47</tspan></text>
<text transform="translate(68.3 236.2) scale(1 1.02)" font-size="36.3">10<tspan font-size="25.4" dy="-17.7">48</tspan></text>
<text transform="translate(68.3 142.9) scale(1 1.02)" font-size="36.3">10<tspan font-size="25.4" dy="-17.7">49</tspan></text>
<text x="175.6" y="736.6" font-size="36.3" text-anchor="middle">0.0</text>
<text x="300.6" y="736.6" font-size="36.3" text-anchor="middle">0.5</text>
<text x="425.5" y="736.6" font-size="36.3" text-anchor="middle">1.0</text>
<text x="550.5" y="736.6" font-size="36.3" text-anchor="middle">1.5</text>
<text x="675.4" y="736.6" font-size="36.3" text-anchor="middle">2.0</text>
<text x="423.9" y="794.3" font-size="36.3" text-anchor="middle">Time [Gyr]</text>
<text transform="translate(767.6 702.9) scale(1 1.02)" font-size="36.3">10<tspan font-size="25.4" dy="-17.7">43</tspan></text>
<text transform="translate(767.6 609.6) scale(1 1.02)" font-size="36.3">10<tspan font-size="25.4" dy="-17.7">44</tspan></text>
<text transform="translate(767.6 516.2) scale(1 1.02)" font-size="36.3">10<tspan font-size="25.4" dy="-17.7">45</tspan></text>
<text transform="translate(767.6 422.9) scale(1 1.02)" font-size="36.3">10<tspan font-size="25.4" dy="-17.7">46</tspan></text>
<text transform="translate(767.6 329.6) scale(1 1.02)" font-size="36.3">10<tspan font-size="25.4" dy="-17.7">47</tspan></text>
<text transform="translate(767.6 236.2) scale(1 1.02)" font-size="36.3">10<tspan font-size="25.4" dy="-17.7">48</tspan></text>
<text transform="translate(767.6 142.9) scale(1 1.02)" font-size="36.3">10<tspan font-size="25.4" dy="-17.7">49</tspan></text>
<text x="874.9" y="736.6" font-size="36.3" text-anchor="middle">0.0</text>
<text x="999.9" y="736.6" font-size="36.3" text-anchor="middle">0.5</text>
<text x="1124.8" y="736.6" font-size="36.3" text-anchor="middle">1.0</text>
<text x="1249.8" y="736.6" font-size="36.3" text-anchor="middle">1.5</text>
<text x="1374.7" y="736.6" font-size="36.3" text-anchor="middle">2.0</text>
<text x="1123.2" y="794.3" font-size="36.3" text-anchor="middle">Time [Gyr]</text>
<text transform="translate(1467.3 702.9) scale(1 1.02)" font-size="36.3">10<tspan font-size="25.4" dy="-17.7">58</tspan></text>
<text transform="translate(1467.3 562.9) scale(1 1.02)" font-size="36.3">10<tspan font-size="25.4" dy="-17.7">60</tspan></text>
<text transform="translate(1467.3 422.9) scale(1 1.02)" font-size="36.3">10<tspan font-size="25.4" dy="-17.7">62</tspan></text>
<text transform="translate(1467.3 282.9) scale(1 1.02)" font-size="36.3">10<tspan font-size="25.4" dy="-17.7">64</tspan></text>
<text transform="translate(1467.3 142.9) scale(1 1.02)" font-size="36.3">10<tspan font-size="25.4" dy="-17.7">66</tspan></text>
<text x="1574.6" y="736.6" font-size="36.3" text-anchor="middle">0.0</text>
<text x="1699.5" y="736.6" font-size="36.3" text-anchor="middle">0.5</text>
<text x="1824.5" y="736.6" font-size="36.3" text-anchor="middle">1.0</text>
<text x="1949.5" y="736.6" font-size="36.3" text-anchor="middle">1.5</text>
<text x="2074.4" y="736.6" font-size="36.3" text-anchor="middle">2.0</text>
<text x="1822.9" y="794.3" font-size="36.3" text-anchor="middle">Time [Gyr]</text>
<text transform="translate(34.8 410.7) rotate(-90)" font-size="36.3" text-anchor="middle">E [erg/s]</text>
<text transform="translate(34.8 410.7) rotate(-90)" x="-72.6" y="-9.9" font-family="'Liberation Serif',serif" font-size="38.3">˙</text>
<text transform="translate(734.1 410.7) rotate(-90)" font-size="36.3" text-anchor="middle">E [erg/s]</text>
<text transform="translate(734.1 410.7) rotate(-90)" x="-72.6" y="-9.9" font-family="'Liberation Serif',serif" font-size="38.3">˙</text>
<text transform="translate(1436.9 410.3) rotate(-90)" font-size="36.3" text-anchor="middle">Total AGN Power [erg]</text>
<text x="197.3" y="663.1" font-size="36.3" font-weight="bold">A</text>
<text x="896.6" y="663.1" font-size="36.3" font-weight="bold">B</text>
<text x="1596.3" y="663.1" font-size="36.3" font-weight="bold">C</text>
</g>
</svg>
</body></html>
